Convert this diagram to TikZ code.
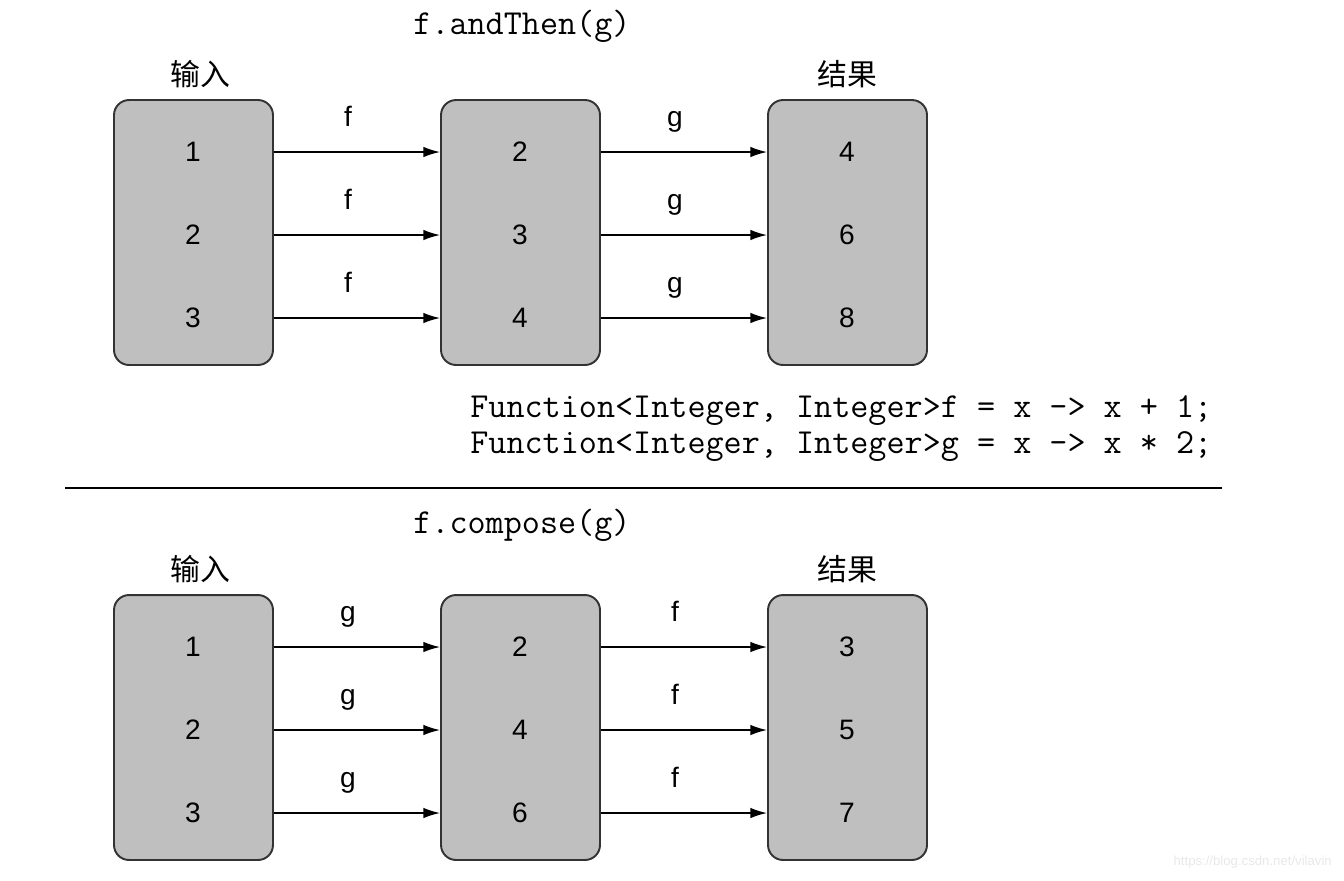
\documentclass[tikz,border=0pt]{standalone}
\usepackage{fontspec}
\setmainfont{Liberation Sans}
\newfontfamily\cjk{Noto Sans CJK SC}
\usetikzlibrary{arrows.meta}

\begin{document}
\begin{tikzpicture}[x=0.02cm,y=-0.02cm,
  box/.style={draw=black!80,line width=1.1pt,fill=black!25,rounded corners=0.3cm,
    minimum width=3.18cm,minimum height=5.3cm,inner sep=0pt},
  num/.style={font=\fontsize{16}{18}\selectfont},
  lbl/.style={font=\fontsize{16}{18}\selectfont,anchor=base},
  head/.style={font=\cjk\fontsize{17}{20}\selectfont,anchor=base},
  code/.style={font=\ttfamily\fontsize{20}{22}\selectfont,anchor=base west,inner sep=0pt},
  arr/.style={-{Latex[length=9.5pt,width=6pt]},line width=0.9pt}]
  \useasboundingbox (0,0) rectangle (1344,880);
  % f.andThen(g)
  \node[code] (then) at (413,34) {f.andThen(g)};
  \node[head] (tin) at (200,85) {输入};
  \node[head] (tout) at (847,85) {结果};
  \node[box] (ta) at (193.5,232.5) {};
  \node[box] (tb) at (520.5,232.5) {};
  \node[box] (tc) at (847.5,232.5) {};
  \node[num] (ta1) at (193,152) {1};
  \node[num] (ta2) at (193,235) {2};
  \node[num] (ta3) at (193,318) {3};
  \node[num] (tb1) at (520,152) {2};
  \node[num] (tb2) at (520,235) {3};
  \node[num] (tb3) at (520,318) {4};
  \node[num] (tc1) at (847,152) {4};
  \node[num] (tc2) at (847,235) {6};
  \node[num] (tc3) at (847,318) {8};
  \draw[arr] (ta1 -| ta.east)--(ta1 -| tb.west);
  \draw[arr] (ta2 -| ta.east)--(ta2 -| tb.west);
  \draw[arr] (ta3 -| ta.east)--(ta3 -| tb.west);
  \draw[arr] (tb1 -| tb.east)--(tb1 -| tc.west);
  \draw[arr] (tb2 -| tb.east)--(tb2 -| tc.west);
  \draw[arr] (tb3 -| tb.east)--(tb3 -| tc.west);
  \node[lbl] (tf1) at (348,126) {f};
  \node[lbl] (tf2) at (348,209) {f};
  \node[lbl] (tf3) at (348,292) {f};
  \node[lbl] (tg1) at (675,126) {g};
  \node[lbl] (tg2) at (675,209) {g};
  \node[lbl] (tg3) at (675,292) {g};
  \node[code] (deff) at (470,417) {Function<Integer, Integer>f = x -> x + 1;};
  \node[code] (defg) at (470,453) {Function<Integer, Integer>g = x -> x * 2;};
  \draw[line width=1.2pt] (65,488)--(1222,488);
  % f.compose(g)
  \node[code] (comp) at (413,533) {f.compose(g)};
  \node[head] (bin) at (200,580) {输入};
  \node[head] (bout) at (847,580) {结果};
  \node[box] (ba) at (193.5,727.5) {};
  \node[box] (bb) at (520.5,727.5) {};
  \node[box] (bc) at (847.5,727.5) {};
  \node[num] (ba1) at (193,647) {1};
  \node[num] (ba2) at (193,730) {2};
  \node[num] (ba3) at (193,813) {3};
  \node[num] (bb1) at (520,647) {2};
  \node[num] (bb2) at (520,730) {4};
  \node[num] (bb3) at (520,813) {6};
  \node[num] (bc1) at (847,647) {3};
  \node[num] (bc2) at (847,730) {5};
  \node[num] (bc3) at (847,813) {7};
  \draw[arr] (ba1 -| ba.east)--(ba1 -| bb.west);
  \draw[arr] (ba2 -| ba.east)--(ba2 -| bb.west);
  \draw[arr] (ba3 -| ba.east)--(ba3 -| bb.west);
  \draw[arr] (bb1 -| bb.east)--(bb1 -| bc.west);
  \draw[arr] (bb2 -| bb.east)--(bb2 -| bc.west);
  \draw[arr] (bb3 -| bb.east)--(bb3 -| bc.west);
  \node[lbl] (bg1) at (348,621) {g};
  \node[lbl] (bg2) at (348,704) {g};
  \node[lbl] (bg3) at (348,787) {g};
  \node[lbl] (bf1) at (675,621) {f};
  \node[lbl] (bf2) at (675,704) {f};
  \node[lbl] (bf3) at (675,787) {f};
  \node[anchor=east,text=black!9,font=\fontsize{7.5}{9}\selectfont] (mark) at (1338,862) {https://blog.csdn.net/vilavin};
\end{tikzpicture}
\end{document}
